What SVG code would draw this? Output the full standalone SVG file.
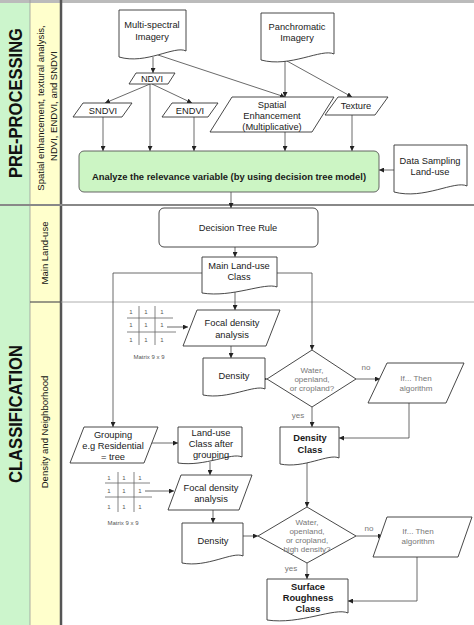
<svg xmlns="http://www.w3.org/2000/svg" width="474" height="625" viewBox="0 0 474 625">
<defs>
<marker id="ah" markerWidth="5" markerHeight="5" refX="5" refY="2.5" orient="auto" markerUnits="userSpaceOnUse"><path d="M0,0 L5,2.5 L0,5 z" fill="#222"/></marker>
<style>
.sh{fill:#fff;stroke:#333;stroke-width:0.9}
.t{font-family:"Liberation Sans",Arial,sans-serif;font-size:9.3px;fill:#1a1a1a;text-anchor:middle}
.b{font-weight:bold}
.g{font-family:"Liberation Sans",Arial,sans-serif;font-size:8px;fill:#777;text-anchor:middle}
.m{font-family:"Liberation Sans",Arial,sans-serif;font-size:6px;fill:#555;text-anchor:middle}
.c{fill:none;stroke:#444;stroke-width:0.8;marker-end:url(#ah)}
.ml{stroke:#666;stroke-width:0.8}
.lane{font-family:"Liberation Sans",Arial,sans-serif;fill:#111;text-anchor:middle}
</style>
</defs>
<rect width="474" height="625" fill="#fff"/>
<!-- lanes -->
<g id="lanes">
<rect x="0" y="0" width="30" height="625" fill="#ccf5cc"/>
<rect x="30" y="0" width="31" height="625" fill="#ffffcc"/>
<rect x="0" y="0" width="474" height="3" fill="#bbb"/>
<line x1="30" y1="0" x2="30" y2="625" stroke="#999" stroke-width="0.8"/>
<line x1="61" y1="0" x2="61" y2="625" stroke="#555" stroke-width="2.5"/>
<line x1="0" y1="205" x2="474" y2="205" stroke="#888" stroke-width="2"/>
<line x1="30" y1="302" x2="61" y2="302" stroke="#555" stroke-width="1.2"/>
<line x1="61" y1="302" x2="474" y2="302" stroke="#999" stroke-width="0.8"/>
<text class="lane b" font-size="19" textLength="150" lengthAdjust="spacingAndGlyphs" transform="translate(22,103) rotate(-90)">PRE-PROCESSING</text>
<text class="lane" font-size="9.5" transform="translate(44,108) rotate(-90)">Spatial enhancement, textural analysis,</text>
<text class="lane" font-size="9.5" transform="translate(57,106) rotate(-90)">NDVI, ENDVI, and SNDVI</text>
<text class="lane b" font-size="18" textLength="138" lengthAdjust="spacingAndGlyphs" transform="translate(22,414) rotate(-90)">CLASSIFICATION</text>
<text class="lane" font-size="9.5" transform="translate(48,253) rotate(-90)">Main Land-use</text>
<text class="lane" font-size="9.5" transform="translate(48,432) rotate(-90)">Density and Neighborhood</text>
</g>
<!-- connectors -->
<g id="connectors">
<line class="c" x1="153" y1="57" x2="153" y2="73"/>
<line class="c" x1="158" y1="55" x2="285" y2="97"/>
<line class="c" x1="285" y1="61" x2="285" y2="97"/>
<line class="c" x1="287" y1="61" x2="352" y2="97"/>
<line class="c" x1="150" y1="84" x2="105" y2="103"/>
<line class="c" x1="152" y1="84" x2="192" y2="103"/>
<line class="c" x1="150" y1="84" x2="150" y2="151"/>
<line class="c" x1="103" y1="117" x2="103" y2="151"/>
<line class="c" x1="194" y1="117" x2="194" y2="151"/>
<line class="c" x1="285" y1="132" x2="285" y2="151"/>
<line class="c" x1="352" y1="115" x2="352" y2="151"/>
<line class="c" x1="394" y1="170" x2="379" y2="170"/>
<line class="c" x1="231" y1="192" x2="231" y2="208"/>
<line class="c" x1="235" y1="247" x2="235" y2="257"/>
<line class="c" x1="235" y1="292" x2="235" y2="310"/>
<polyline class="c" points="202,273 113,273 113,427"/>
<polyline class="c" points="277,273 312,273 312,350"/>
<line class="c" x1="167" y1="327" x2="188" y2="327"/>
<line class="c" x1="231" y1="346" x2="231" y2="358"/>
<line class="c" x1="262" y1="379" x2="267" y2="379"/>
<line class="c" x1="356" y1="379" x2="380" y2="379"/>
<line class="c" x1="312" y1="407" x2="312" y2="427"/>
<polyline class="c" points="409,403 409,438 339,438"/>
<line class="c" x1="151" y1="443" x2="178" y2="443"/>
<line class="c" x1="210" y1="462" x2="210" y2="475"/>
<line class="c" x1="145" y1="491" x2="174" y2="491"/>
<line class="c" x1="213" y1="510" x2="213" y2="523"/>
<line class="c" x1="243" y1="536" x2="258" y2="536"/>
<line class="c" x1="307" y1="462" x2="307" y2="507"/>
<line class="c" x1="356" y1="536" x2="383" y2="536"/>
<line class="c" x1="307" y1="563" x2="307" y2="579"/>
<polyline class="c" points="417,557 417,601 348,601"/>
</g>
<!-- nodes -->
<g id="multispectral">
<path class="sh" d="M119,10 H186 V51 C175,45 146,65 119,57 Z"/>
<text class="t" x="152" y="28">Multi-spectral</text>
<text class="t" x="152" y="40">Imagery</text>
</g>
<g id="panchromatic">
<path class="sh" d="M261,13 H334 V54 C322,48 290,68 261,60 Z"/>
<text class="t" x="297" y="30">Panchromatic</text>
<text class="t" x="297" y="41">Imagery</text>
</g>
<g id="ndvi">
<polygon class="sh" points="136,73 175,73 168,84 129,84"/>
<text class="t" x="152" y="82">NDVI</text>
</g>
<g id="sndvi">
<polygon class="sh" points="83,103 132,103 122,117 73,117"/>
<text class="t" x="103" y="114">SNDVI</text>
</g>
<g id="endvi">
<polygon class="sh" points="172,103 218,103 208,117 162,117"/>
<text class="t" x="190" y="114">ENDVI</text>
</g>
<g id="spatial">
<polygon class="sh" points="232,97 334,97 312,132 210,132"/>
<text class="t" x="272" y="108">Spatial</text>
<text class="t" x="272" y="119">Enhancement</text>
<text class="t" x="272" y="130">(Multiplicative)</text>
</g>
<g id="texture">
<polygon class="sh" points="338,97 388,97 375,115 325,115"/>
<text class="t" x="356" y="109">Texture</text>
</g>
<g id="analyze">
<rect x="79" y="151" width="300" height="41" rx="5" fill="#ccf5c4" stroke="#555" stroke-width="0.9"/>
<text class="t b" x="229" y="180" style="font-size:9.4px">Analyze the relevance variable (by using decision tree model)</text>
</g>
<g id="datasampling">
<path class="sh" d="M394,145 H467 V186 C455,180 424,200 394,192 Z"/>
<text class="t" x="430" y="164">Data Sampling</text>
<text class="t" x="430" y="175">Land-use</text>
</g>
<g id="decisiontree">
<rect class="sh" x="159" y="208" width="159" height="39" rx="5"/>
<text class="t" x="238" y="231">Decision Tree Rule</text>
</g>
<g id="mainlanduse">
<path class="sh" d="M202,257 H277 V287 C265,282 232,298 202,293 Z"/>
<text class="t" x="239" y="269">Main Land-use</text>
<text class="t" x="239" y="280">Class</text>
</g>
<g id="matrix1">
<line class="ml" x1="127" y1="318" x2="173" y2="318"/>
<line class="ml" x1="127" y1="332" x2="176" y2="332"/>
<line class="ml" x1="139" y1="306" x2="139" y2="345"/>
<line class="ml" x1="155" y1="306" x2="155" y2="345"/>
<text class="m" x="131" y="314">1</text><text class="m" x="146" y="314">1</text><text class="m" x="162" y="314">1</text>
<text class="m" x="131" y="327">1</text><text class="m" x="146" y="327">1</text><text class="m" x="162" y="327">1</text>
<text class="m" x="131" y="342">1</text><text class="m" x="146" y="342">1</text><text class="m" x="162" y="342">1</text>
<text class="m" x="149" y="359">Matrix 9 x 9</text>
</g>
<g id="focal1">
<polygon class="sh" points="197,310 280,310 266,346 183,346"/>
<text class="t" x="232" y="326">Focal density</text>
<text class="t" x="232" y="338">analysis</text>
</g>
<g id="density1">
<path class="sh" d="M203,358 H265 V389 C255,384 228,400 203,395 Z"/>
<text class="t" x="234" y="379">Density</text>
</g>
<g id="diamond1">
<polygon class="sh" points="312,350 356,379 312,407 267,379"/>
<text class="g" x="312" y="373">Water,</text>
<text class="g" x="312" y="382">openland,</text>
<text class="g" x="312" y="391">or cropland?</text>
</g>
<text class="g" x="366" y="370">no</text>
<text class="g" x="298" y="418">yes</text>
<g id="ifthen1">
<polygon class="sh" points="387,363 464,363 446,403 368,403"/>
<text class="g" x="416" y="381">If... Then</text>
<text class="g" x="416" y="391">algorithm</text>
</g>
<g id="densityclass">
<path class="sh" d="M280,427 H339 V458 C329,453 304,469 280,464 Z"/>
<text class="t b" x="310" y="441">Density</text>
<text class="t b" x="310" y="453">Class</text>
</g>
<g id="grouping">
<polygon class="sh" points="84,427 158,427 144,463 70,463"/>
<text class="t" x="113" y="438">Grouping</text>
<text class="t" x="113" y="449">e.g Residential</text>
<text class="t" x="113" y="460">= tree</text>
</g>
<g id="landuseafter">
<path class="sh" d="M178,427 H242 V457 C232,452 205,467 178,463 Z"/>
<text class="t" x="211" y="436">Land-use</text>
<text class="t" x="211" y="447">Class after</text>
<text class="t" x="211" y="458">grouping</text>
</g>
<g id="matrix2">
<line class="ml" x1="105" y1="483" x2="150" y2="483"/>
<line class="ml" x1="105" y1="497" x2="152" y2="497"/>
<line class="ml" x1="118" y1="472" x2="118" y2="512"/>
<line class="ml" x1="134" y1="472" x2="134" y2="512"/>
<text class="m" x="109" y="480">1</text><text class="m" x="124" y="480">1</text><text class="m" x="140" y="480">1</text>
<text class="m" x="109" y="493">1</text><text class="m" x="124" y="493">1</text><text class="m" x="140" y="493">1</text>
<text class="m" x="109" y="509">1</text><text class="m" x="124" y="509">1</text><text class="m" x="140" y="509">1</text>
<text class="m" x="123" y="525">Matrix 9 x 9</text>
</g>
<g id="focal2">
<polygon class="sh" points="181,475 252,475 239,510 168,510"/>
<text class="t" x="211" y="491">Focal density</text>
<text class="t" x="211" y="502">analysis</text>
</g>
<g id="density2">
<path class="sh" d="M182,523 H243 V556 C233,551 207,568 182,563 Z"/>
<text class="t" x="213" y="544">Density</text>
</g>
<g id="diamond2">
<polygon class="sh" points="307,507 356,536 307,563 258,536"/>
<text class="g" x="307" y="525">Water,</text>
<text class="g" x="307" y="534">openland,</text>
<text class="g" x="307" y="543">or cropland,</text>
<text class="g" x="307" y="552">high density?</text>
</g>
<text class="g" x="369" y="531">no</text>
<text class="g" x="291" y="571">yes</text>
<g id="ifthen2">
<polygon class="sh" points="387,517 472,517 458,557 373,557"/>
<text class="g" x="418" y="534">If... Then</text>
<text class="g" x="418" y="544">algorithm</text>
</g>
<g id="surfaceroughness">
<path class="sh" d="M267,579 H348 V613 C335,607 300,625 267,620 Z"/>
<text class="t b" x="308" y="590">Surface</text>
<text class="t b" x="308" y="601">Roughness</text>
<text class="t b" x="308" y="612">Class</text>
</g>
</svg>
